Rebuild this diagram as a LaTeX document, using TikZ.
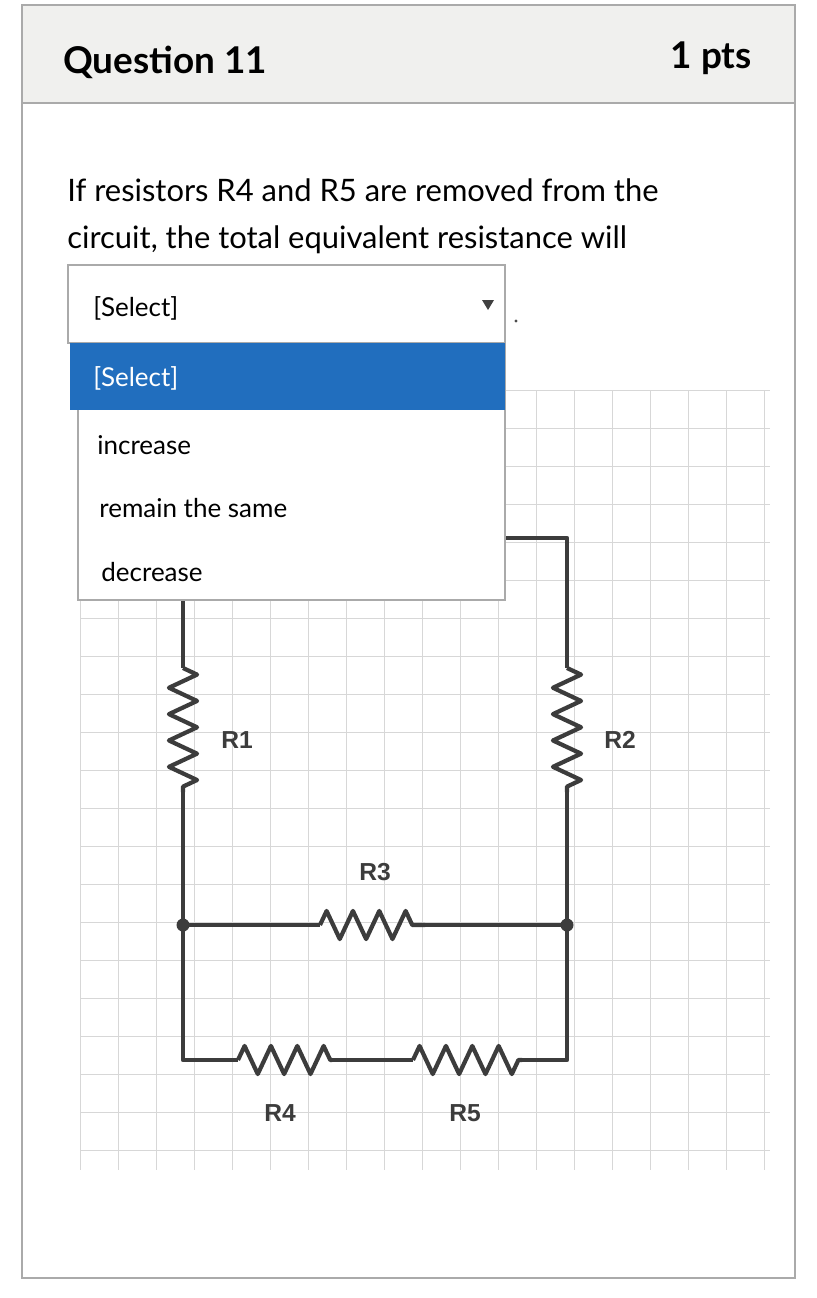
\documentclass[tikz,border=0pt]{standalone}
\usepackage{fontspec}
\setmainfont{Lato}
\newfontfamily\circfont{Liberation Sans}
\usetikzlibrary{calc, arrows.meta, positioning, decorations.pathmorphing}
\definecolor{cardline}{RGB}{170,170,170}
\definecolor{headbg}{RGB}{240,240,238}
\definecolor{selblue}{RGB}{33,110,190}
\definecolor{gridcol}{RGB}{215,215,215}
\definecolor{wirecol}{RGB}{60,60,60}
\tikzstyle{item} =[anchor=west,inner sep=0pt,font=\fontsize{14.8}{17}\selectfont]
\tikzstyle{wire} =[line width=2.4pt,color=wirecol,line join=round]
\tikzstyle{res} =[wire,decorate,decoration={zigzag,segment length=15pt,amplitude=8pt}]
\tikzstyle{rlabel} =[font=\circfont\bfseries\fontsize{14}{16}\selectfont,color=wirecol]

\begin{document}
\begin{tikzpicture}[x=0.02cm, y=-0.02cm]
        \useasboundingbox (0,0) rectangle (817,1298);
        \fill[white] (0,0) rectangle (817,1298);

        % Card and header
        \fill[headbg] (22,5) rectangle (795,103);
        \draw[cardline, line width=1pt] (22,5) rectangle (795,1278);
        \draw[cardline, line width=1pt] (22,103) -- (795,103);
        \node[item, font=\bfseries\fontsize{21}{24}\selectfont] (title) at (63,62) {Question 11};
        \node[item, anchor=east, font=\bfseries\fontsize{21}{24}\selectfont] (pts) at (752,58) {1 pts};

        % Question text
        \node[item, font=\fontsize{17.6}{20}\selectfont] (line1) at (67,190) {If resistors R4 and R5 are removed from the};
        \node[item, font=\fontsize{17.6}{20}\selectfont] (line2) at (67,240) {circuit, the total equivalent resistance will};

        %% Grid behind circuit
        \foreach \x in {80,118,...,770} \draw[gridcol, line width=0.5pt] (\x,390) -- (\x,1170);
        \foreach \y in {390,428,...,1170} \draw[gridcol, line width=0.5pt] (80,\y) -- (770,\y);

        %% Circuit
        \coordinate (tl) at (183,538);
        \coordinate (tr) at (567,538);
        \coordinate (r1a) at (183,668);
        \coordinate (r1b) at (183,792);
        \coordinate (r2a) at (567,668);
        \coordinate (r2b) at (567,792);
        \coordinate (ml) at (183,925);
        \coordinate (mr) at (567,925);
        \coordinate (r3a) at (320,925);
        \coordinate (r3b) at (425,925);
        \coordinate (bl) at (183,1060);
        \coordinate (br) at (567,1060);
        \coordinate (r4a) at (238,1060);
        \coordinate (r4b) at (332,1060);
        \coordinate (r5a) at (413,1060);
        \coordinate (r5b) at (522,1060);

        \draw[wire] (r1a) -- (tl) -- (tr) -- (r2a);
        \draw[res] (r1a) -- (r1b);
        \draw[res] (r2a) -- (r2b);
        \draw[wire] (r1b) -- (ml) -- (bl) -- (r4a);
        \draw[wire] (r2b) -- (mr) -- (br) -- (r5b);
        \draw[wire] (ml) -- (r3a);
        \draw[res] (r3a) -- (r3b);
        \draw[wire] (r3b) -- (mr);
        \draw[res] (r4a) -- (r4b);
        \draw[wire] (r4b) -- (r5a);
        \draw[res] (r5a) -- (r5b);
        \fill[wirecol] (ml) circle (6.5);
        \fill[wirecol] (mr) circle (6.5);

        \node[rlabel] (lR1) at (237,740) {R1};
        \node[rlabel] (lR2) at (620,740) {R2};
        \node[rlabel] (lR3) at (375,872) {R3};
        \node[rlabel] (lR4) at (280,1113) {R4};
        \node[rlabel] (lR5) at (465,1113) {R5};

        %% Dropdown
        \draw[cardline, fill=white, line width=1pt] (68,265) rectangle (505,343);
        \node[item] (sel) at (93,308) {[Select]};
        \fill[black!75] (482,300) -- (494,300) -- (488,310) -- cycle;
        \fill[black!70] (516,321) circle (1.6);

        %% Menu
        \draw[cardline, fill=white, line width=0.8pt] (78,343) rectangle (505,600);
        \fill[selblue] (70,343) rectangle (505,410);
        \node[item, white] (opt0) at (93,378) {[Select]};
        \node[item] (opt1) at (97,445) {increase};
        \node[item] (opt2) at (99,508) {remain the same};
        \node[item] (opt3) at (101,572) {decrease};

    \end{tikzpicture}
\end{document}
